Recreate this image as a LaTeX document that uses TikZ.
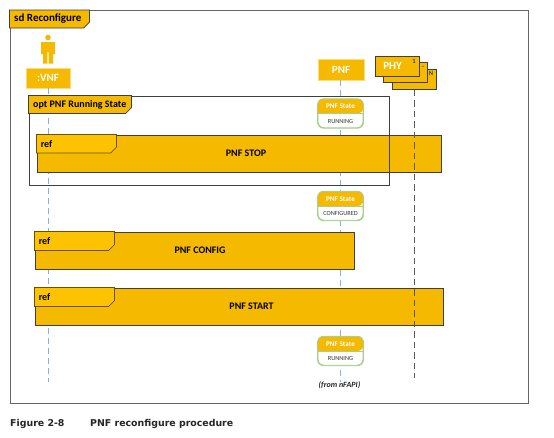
\documentclass[tikz,border=0pt]{standalone}
\usepackage{fontspec}
\setmainfont{Carlito}
\newfontfamily\capfont{DejaVu Sans}
\definecolor{gold}{HTML}{F5B900}
\definecolor{goldtab}{HTML}{FDC300}
\definecolor{edge}{HTML}{3F3F3F}
\definecolor{tabedge}{HTML}{6B5200}
\definecolor{lifeblue}{HTML}{7FB3DE}
\definecolor{stategreen}{HTML}{A9CF8E}
\tikzset{
  refbox/.style={draw=edge,line width=0.9pt,fill=gold,inner sep=0pt,font=\fontsize{10}{12}\selectfont\bfseries},
  headbox/.style={fill=gold,draw=gold!50!white,line width=0.4pt,inner sep=0pt,text=white,font=\fontsize{11}{13}\selectfont\bfseries},
  phybox/.style={fill=gold,draw=edge,line width=0.9pt,inner sep=0pt,minimum width=44pt,minimum height=20pt},
  lifeline/.style={draw=lifeblue,line width=0.8pt,dash pattern=on 6pt off 4pt},
  phyline/.style={draw=black!65,line width=0.9pt,dash pattern=on 6.5pt off 4pt},
  tabshape/.style={draw=tabedge,line width=0.8pt,fill=goldtab},
  frametab/.style={draw=edge,line width=0.8pt,fill=gold},
  tabtext/.style={inner sep=0pt,anchor=west,text=black,font=\fontsize{10}{12}\selectfont\bfseries},
  statebox/.style={draw=stategreen,line width=0.9pt,rounded corners=6pt,minimum width=45pt,minimum height=28.5pt,inner sep=0pt},
  statehead/.style={inner sep=0pt,text=white,font=\fontsize{7.2}{8}\selectfont\bfseries},
  statebody/.style={inner sep=0pt,text=black!80,font=\fontsize{6.3}{7}\selectfont},
}
% ref tab: #1 box name, #2 tab width, #3 tab height, #4 label node name
\newcommand{\reftab}[4]{
  \draw[tabshape] (#1.north west) -- ++(#2,0) -- ++(0,#3-6) -- ++(-6,6) -- ++(-#2+6,0) -- cycle;
  \node[tabtext] (#4) at ([xshift=4pt,yshift=-9.5pt]#1.north west) {ref};
}
% state symbol: #1 name, #2 x, #3 y centre, #4 lower text
\newcommand{\pnfstate}[4]{
  \node[statebox,fill=white] (#1) at (#2,#3) {};
  \fill[gold,rounded corners=6pt] (#1.west) |- (#1.north east) -- (#1.east) [sharp corners] -- cycle;
  \draw[stategreen,line width=.6pt] (#1.west) -- (#1.east);
  \draw[statebox] (#1.south west) rectangle (#1.north east);
  \node[statehead] at ([yshift=-7.6pt]#1.north) {PNF State};
  \node[statebody] at ([yshift=7pt]#1.south) {#4};
}
\begin{document}
\begin{tikzpicture}[x=1pt,y=-1pt]
\useasboundingbox (0,0) rectangle (554,437);
\fill[white] (0,0) rectangle (554,437);
% outer frame
\node[draw=edge!80,line width=0.9pt,minimum width=518pt,minimum height=393pt,inner sep=0pt] (sdframe) at (269,207) {};
\draw[frametab] (sdframe.north west) -- ++(80,0) -- ++(0,12) -- ++(-6,6) -- ++(-74,0) -- cycle;
\node[tabtext,font=\fontsize{11}{13}\selectfont\bfseries] (sdlabel) at (14,18.8) {sd Reconfigure};

% head boxes
\node[headbox,minimum width=44pt,minimum height=20pt] (vnf) at (48,78) {:VNF};
\node[headbox,minimum width=46pt,minimum height=21pt] (pnf) at (341,69.5) {PNF};

% actor
\fill[gold] (48,37.5) circle (2.8);
\fill[gold] (41,42) -- (55,42) -- (55,54) -- (53,54) -- (53,63.5) -- (48.7,63.5) -- (48.7,52) -- (47.4,52) -- (47.4,63.5) -- (43.2,63.5) -- (43.2,54) -- (41,54) -- cycle;

% coordinates for lifeline ends
\coordinate (vnfend) at (48,382);
\coordinate (pnfend) at (340.6,382);
\coordinate (phyend) at (414,378);

\draw[lifeline] (vnf.south) -- (vnfend);
\draw[lifeline] (pnf.south -| pnfend) -- (pnfend);

% PHY stack
\node[phybox] (phyn) at (414,79.5) {};
\node[phybox] (phym) at (405,72.5) {};
\node[phybox,text=white,font=\fontsize{11}{13}\selectfont\bfseries] (phy) at (397,66) {\hspace*{-9pt}PHY};
\node[inner sep=0pt,font=\fontsize{6.5}{7}\selectfont\bfseries,text=edge] (lab1) at (414,61) {1};
\node[inner sep=0pt,font=\fontsize{6.5}{7}\selectfont\bfseries,text=edge] (labm) at (423,67.3) {--};
\node[inner sep=0pt,font=\fontsize{6.5}{7}\selectfont\bfseries,text=edge] (labn) at (431,73.5) {N};

% ref boxes
\node[refbox,minimum width=404pt,minimum height=37pt] (stop) at (239,153.5) {\hspace*{14pt}PNF STOP};
\reftab{stop}{80}{18.5}{reflabA}
\node[refbox,minimum width=319pt,minimum height=37pt] (config) at (194.5,250.5) {\hspace*{11pt}PNF CONFIG};
\reftab{config}{80}{19}{reflabB}
\node[refbox,minimum width=408pt,minimum height=37pt] (start) at (239,306.5) {\hspace*{25pt}PNF START};
\reftab{start}{80}{19}{reflabC}

% opt frame (over the ref box)
\node[draw=edge,line width=0.9pt,minimum width=360pt,minimum height=89pt,inner sep=0pt] (opt) at (209,140.5) {};
\draw[frametab] (opt.north west) -- ++(103,0) -- ++(0,12) -- ++(-6,6) -- ++(-97,0) -- cycle;
\node[tabtext] (optlabel) at (33,105) {opt PNF Running State};

% PHY lifeline on top
\draw[phyline] (phyn.south -| phyend) -- (phyend);

% states
\pnfstate{stA}{340.5}{113.5}{RUNNING}
\pnfstate{stB}{340.5}{206}{CONFIGURED}
\pnfstate{stC}{340.5}{351}{RUNNING}

\node[inner sep=0pt,text=black!85,font=\fontsize{8}{9}\selectfont\bfseries\itshape] (fromn) at (339.5,385.5) {(from nFAPI)};

% caption
\node[inner sep=0pt,anchor=west,font=\capfont\fontsize{9.4}{11}\selectfont\bfseries,text=black!85] (capA) at (10,424) {Figure 2-8};
\node[inner sep=0pt,anchor=west,font=\capfont\fontsize{9.4}{11}\selectfont\bfseries,text=black!85] (capB) at (90,424) {PNF reconfigure procedure};
\end{tikzpicture}
\end{document}
